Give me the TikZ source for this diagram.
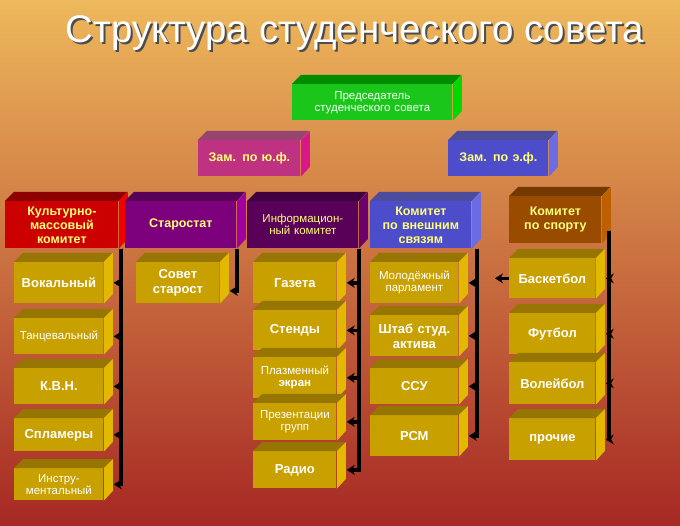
\documentclass[tikz,border=0pt]{standalone}
\usepackage{fontspec}
\setmainfont{Liberation Sans}
\usetikzlibrary{arrows.meta}
\definecolor{bgtop}{RGB}{238,184,92}
\definecolor{bgmid}{RGB}{214,134,70}
\definecolor{bgbot}{RGB}{166,40,36}
\definecolor{gold}{RGB}{200,160,0}
\definecolor{goldtop}{RGB}{150,118,0}
\definecolor{goldside}{RGB}{226,184,0}
\definecolor{txtyel}{RGB}{255,255,120}

\tikzset{every picture/.style={line width=0.75pt}}
\tikzset{
  box/.style={anchor=north west, inner sep=1pt, align=center, font=\bfseries\fontsize{12.5}{14}\selectfont},
  kid/.style={box, fill=gold, text=white, font=\bfseries\fontsize{13}{15}\selectfont},
  thin/.style={font=\fontsize{11.5}{12}\selectfont},
  link/.style={draw=black, line width=3.5pt, -{Stealth[length=8pt,width=10pt]}}
}
% block with top and side faces: name, x, y, w, h, front, top, side, style, text
\newcommand\cube[9]{%
  \node[#8, fill=#5, minimum width=#3pt, minimum height=#4pt, text width=#3pt-4pt] (#1) at (#2) {#9};
  \fill[#6] (#1.north west) -- ++(9,-9) -- ++(#3,0) -- (#1.north east) -- cycle;
  \fill[#7] (#1.north east) -- ++(9,-9) -- ++(0,#4) -- (#1.south east) -- cycle;
}

\begin{document}
\begin{tikzpicture}[x=1pt,y=1pt,yscale=-1,xscale=1]
    \shade[top color=bgtop, middle color=bgmid, bottom color=bgbot] (0,0) rectangle (680,526);
    \useasboundingbox (0,0) rectangle (680,526);

    % title
    \node[anchor=north west, text=black!70, font=\fontsize{38.5}{42}\selectfont] (titleshadow) at (64,14) {Структура студенческого совета};
    \node[anchor=north west, text=white, font=\fontsize{38.5}{42}\selectfont] (title) at (62,12) {Структура студенческого совета};

    % top levels
    \cube{pred}{292,84}{160}{36}{green!75!black!90}{green!55!black}{green!85!black}{box, text=white, thin}{Председатель\\ студенческого совета}
    \cube{zamu}{198,140}{102}{36}{magenta!75!black}{magenta!55!black}{magenta!90!black}{box, text=txtyel}{Зам. по ю.ф.}
    \cube{zame}{448,140}{100}{36}{blue!55!gray!90}{blue!45!black!70}{blue!60!white!80!gray}{box, text=txtyel}{Зам. по э.ф.}

    % committees
    \cube{kult}{5,201}{113}{47}{red!80!black}{red!55!black}{red!95!black}{box, text=txtyel}{Культурно-\\массовый\\комитет}
    \cube{star}{125,201}{111}{47}{violet!70!magenta!75!black}{violet!60!magenta!50!black}{violet!60!magenta!90!black}{box, text=txtyel}{Старостат}
    \cube{info}{247,201}{111}{47}{violet!70!black}{violet!50!black}{violet!85!black}{box, text=txtyel, thin}{Информацион-\\ный комитет}
    \cube{vnesh}{370,201}{101}{47}{blue!55!gray!90}{blue!45!black!70}{blue!60!white!80!gray}{box, text=txtyel}{Комитет\\по внешним\\связям}
    \cube{sport}{509,196}{92}{47}{orange!60!black}{orange!45!black}{orange!75!black}{box, text=txtyel}{Комитет\\по спорту}

    % children
    \cube{vok}{14,262}{89}{41}{gold}{goldtop}{goldside}{kid}{Вокальный}
    \cube{tanc}{14,318}{89}{36}{gold}{goldtop}{goldside}{kid, thin}{Танцевальный}
    \cube{kvn}{14,368}{89}{36}{gold}{goldtop}{goldside}{kid}{К.В.Н.}
    \cube{splam}{14,418}{89}{33}{gold}{goldtop}{goldside}{kid}{Спламеры}
    \cube{instr}{14,468}{89}{32}{gold}{goldtop}{goldside}{kid, thin}{Инстру-\\ментальный}
    \cube{sovet}{136,262}{83}{41}{gold}{goldtop}{goldside}{kid}{Совет\\старост}
    \cube{gaz}{253,262}{83}{41}{gold}{goldtop}{goldside}{kid}{Газета}
    \cube{stend}{253,310}{83}{40}{gold}{goldtop}{goldside}{kid}{Стенды}
    \cube{plazm}{253,357}{83}{41}{gold}{goldtop}{goldside}{kid, thin}{Плазменный\\\textbf{экран}}
    \cube{prez}{253,403}{83}{37}{gold}{goldtop}{goldside}{kid, thin}{Презентации\\групп}
    \cube{radio}{253,451}{83}{37}{gold}{goldtop}{goldside}{kid}{Радио}
    \cube{molod}{370,262}{88}{41}{gold}{goldtop}{goldside}{kid, thin}{Молодёжный\\парламент}
    \cube{shtab}{370,315}{88}{41}{gold}{goldtop}{goldside}{kid}{Штаб студ.\\актива}
    \cube{ssu}{370,368}{88}{36}{gold}{goldtop}{goldside}{kid}{ССУ}
    \cube{rsm}{370,415}{88}{41}{gold}{goldtop}{goldside}{kid}{РСМ}
    \cube{basket}{509,258}{86}{40}{gold}{goldtop}{goldside}{kid}{Баскетбол}
    \cube{futb}{509,313}{86}{41}{gold}{goldtop}{goldside}{kid}{Футбол}
    \cube{voley}{509,362}{86}{42}{gold}{goldtop}{goldside}{kid}{Волейбол}
    \cube{proch}{509,418}{86}{42}{gold}{goldtop}{goldside}{kid}{прочие}

    % buses
    \coordinate (kbus) at ([xshift=2pt]kult.south east);
    \coordinate (sbus) at ([xshift=0pt]star.south east);
    \coordinate (ibus) at ([xshift=0pt]info.south east);
    \coordinate (vbus) at ([xshift=5pt]vnesh.south east);
    \coordinate (spbus) at ([xshift=7pt,yshift=-13pt]sport.south east);
    \coordinate (bleft) at ([xshift=-14pt]basket.west);

    \foreach \k in {vok,tanc,kvn,splam,instr} \draw[link] (kbus) |- ([xshift=10pt]\k.east);
    \draw[link] (sbus) |- ([xshift=10pt,yshift=8pt]sovet.east);
    \foreach \k in {gaz,stend,plazm,prez,radio} \draw[link] (ibus) |- ([xshift=10pt]\k.east);
    \foreach \k in {molod,shtab,ssu,rsm} \draw[link] (vbus) |- ([xshift=10pt]\k.east);
    \foreach \k in {basket,futb,voley,proch} \draw[link] (spbus) |- ([xshift=10pt]\k.east);
    \draw[link] (basket.west) -- (bleft);

\end{tikzpicture}
\end{document}
